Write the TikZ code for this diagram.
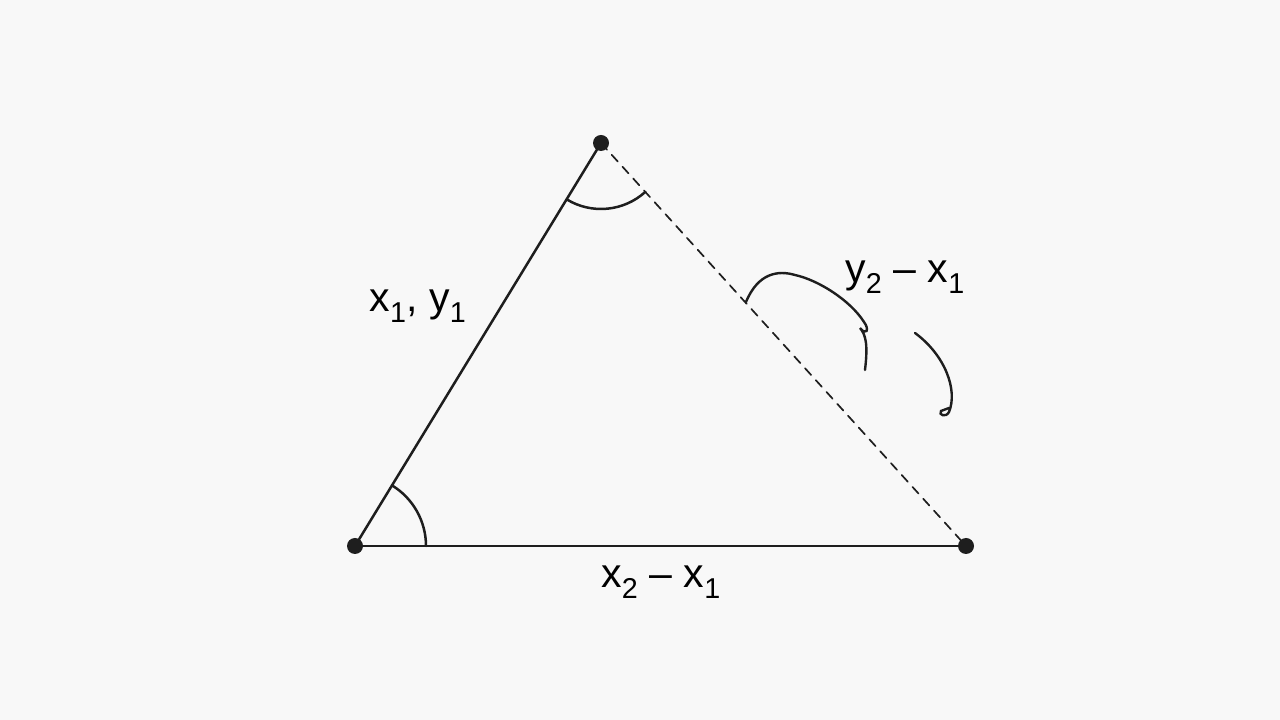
\documentclass[tikz,border=0pt]{standalone}
\usepackage{fontspec}
\setmainfont{Liberation Sans}
\definecolor{paper}{RGB}{248,248,248}
\definecolor{ink}{RGB}{30,30,30}
\begin{document}
\begin{tikzpicture}[x=1pt, y=1pt, line cap=round,
    dot/.style={circle,fill=ink,inner sep=0pt,minimum size=16pt},
    lbl/.style={inner sep=0pt,font=\fontsize{41}{48}\selectfont},
    edge/.style={draw=ink,line width=2.5pt},
    hand/.style={draw=ink,line width=2.4pt}]

        % background / page size
        \fill[paper] (0,0) rectangle (1280,720);
        \useasboundingbox (0,0) rectangle (1280,720);

        % parameters
        \def\rtop{66}          % radius of the angle arc at the top
        \def\rleft{71}         % radius of the angle arc at the left

        % --- vertices: top, left, right ---
        \foreach \name/\pos in {v0/{(601,577)}, v1/{(355,174)}, v2/{(966,174)}} {%
            \node[dot] (\name) at \pos {};%
        }

        % sides
        \draw[edge] (v0.center) -- (v1.center);
        \draw[edge] (v1.center) -- (v2.center);
        \draw[draw=ink,line width=1.7pt,dash pattern=on 9pt off 7pt] (v0.center) -- (v2.center);

        % angle arcs
        \draw[edge] ([shift={(238.6:\rtop)}]v0.center) arc[start angle=238.6,end angle=312.2,radius=\rtop];
        \draw[edge] ([shift={(0:\rleft)}]v1.center) arc[start angle=0,end angle=58.6,radius=\rleft];

        % hand drawn strokes beside the dashed side
        \draw[hand] (746,418) .. controls (758,447) and (778,450) .. (795,445)
            .. controls (818,440) and (850,420) .. (864,398)
            .. controls (870,390) and (866,384) .. (860,392)
            .. controls (866,385) and (868,375) .. (865,350);
        \draw[hand] (915,387) .. controls (945,365) and (958,330) .. (949,308)
            .. controls (946,302) and (938,305) .. (941,309) -- (949,312);

        % labels
        \node[lbl] (lxy) at (418,414) {x\textsubscript{1}, y\textsubscript{1}};
        \node[lbl] (lyx) at (905,443) {y\textsubscript{2} – x\textsubscript{1}};
        \node[lbl] (lxx) at (661,138) {x\textsubscript{2} – x\textsubscript{1}};

\end{tikzpicture}
\end{document}
